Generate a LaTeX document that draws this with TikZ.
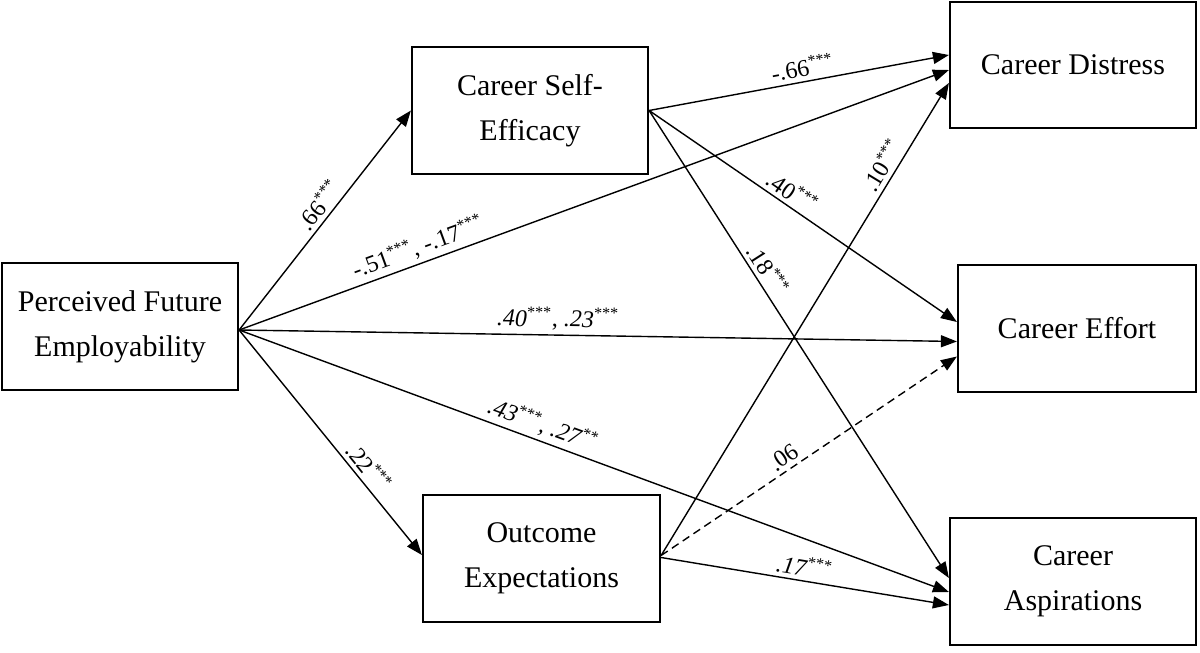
\documentclass[tikz,border=0pt]{standalone}
\usepackage{fontspec}
\setmainfont{Liberation Serif}
\usetikzlibrary{arrows.meta}
\newcommand\sg[1]{\textsuperscript{#1}}
\begin{document}
\begin{tikzpicture}[x=0.5pt,y=-0.5pt,
  box/.style={draw, line width=1.1pt, align=center, inner sep=0pt,
    minimum height=63.5pt, font=\fontsize{15}{22.5}\selectfont},
  lbl/.style={font=\fontsize{12}{14}\selectfont, sloped, above, inner sep=2pt},
  arr/.style={-{Triangle[length=8pt,width=6pt]}, line width=0.7pt},
  dsh/.style={dash pattern=on 4pt off 2.5pt}]
\useasboundingbox (0,0) rectangle (1200,653);
\node[box, minimum width=118pt] (pfe) at (120,326.5) {Perceived Future\\Employability};
\node[box, minimum width=118pt] (cse) at (530,110.5) {Career Self-\\Efficacy};
\node[box, minimum width=118.5pt] (oe) at (541.5,558.5) {Outcome\\Expectations};
\node[box, minimum width=123pt, minimum height=63pt] (cd) at (1073,65) {Career Distress};
\node[box, minimum width=119pt] (ce) at (1077,328.5) {Career Effort};
\node[box, minimum width=123pt] (ca) at (1073,581.5) {Career\\Aspirations};

\draw[arr] ([shift={(0,3.5)}]pfe.east) -- node[lbl,pos=0.53]{.66\sg{***}} (cse.west);
\draw[arr] ([shift={(0,3.5)}]pfe.east) -- node[lbl,pos=0.26]{-.51\sg{***}, -.17\sg{***}} ([shift={(0,5)}]cd.west);
\draw[arr] ([shift={(0,3.5)}]pfe.east) -- node[lbl,pos=0.444]{\textit{.40}\sg{***}, \textit{.23}\sg{***}} ([shift={(0,13)}]ce.west);
\draw[arr] ([shift={(0,3.5)}]pfe.east) -- node[lbl,pos=0.42]{\textit{.43}\sg{***}, \textit{.27}\sg{**}} ([shift={(0,10.5)}]ca.west);
\draw[arr] ([shift={(0,3.5)}]pfe.east) -- node[lbl,pos=0.65]{.22\sg{***}} ([shift={(0,-3.5)}]oe.west);
\draw[arr] (cse.east) -- node[lbl,pos=0.52]{-.66\sg{***}} ([shift={(0,-10)}]cd.west);
\draw[arr] (cse.east) -- node[lbl,pos=0.44]{.40\sg{***}} ([shift={(0,-6.5)}]ce.west);
\draw[arr] (cse.east) -- node[lbl,pos=0.357]{.18\sg{***}} ([shift={(0,-3.5)}]ca.west);
\draw[arr] ([shift={(0,-3)}]oe.east) -- node[lbl,pos=0.81]{.10\sg{***}} ([shift={(0,18)}]cd.west);
\draw[arr,dsh] ([shift={(0,-3)}]oe.east) -- node[lbl,pos=0.44]{.06} ([shift={(0,28)}]ce.west);
\draw[arr] ([shift={(0,-1)}]oe.east) -- node[lbl,pos=0.49]{\textit{.17}\sg{***}} ([shift={(0,23.5)}]ca.west);
\end{tikzpicture}
\end{document}
